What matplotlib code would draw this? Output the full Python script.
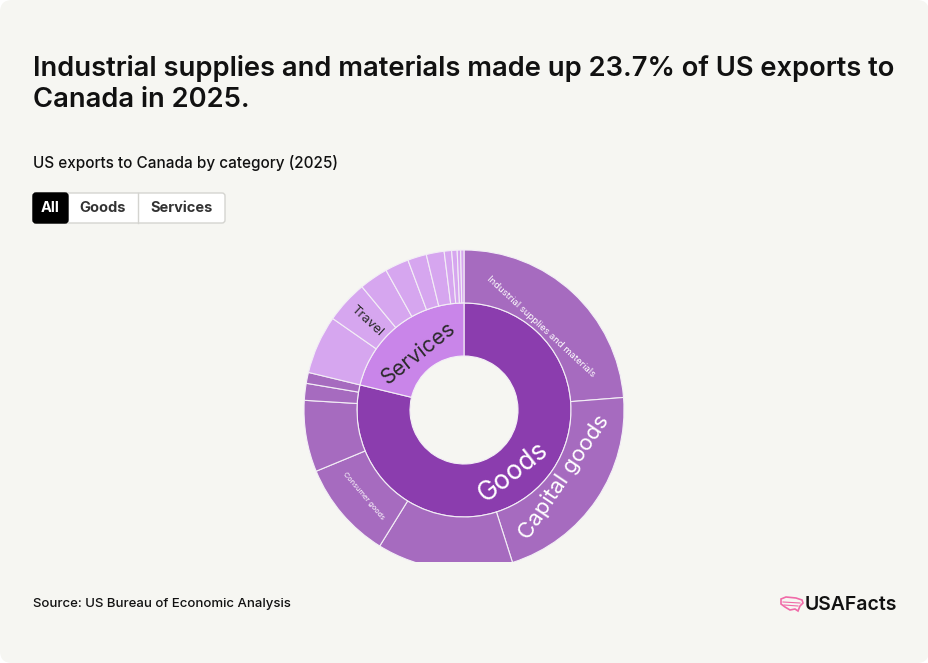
import numpy as np
import matplotlib
matplotlib.use("Agg")
import matplotlib.pyplot as plt
from matplotlib.patches import Wedge, FancyBboxPatch, Polygon

# share of US exports to Canada, percent of total (2025)
groups = ["Goods", "Services"]
goods_labels = ["Industrial supplies and materials", "Capital goods",
                "Automotive vehicles, parts, and engines", "Consumer goods",
                "Foods, feeds, and beverages", "Other goods", "Adjustments"]
goods_share = [23.7, 21.3, 13.7, 9.9, 7.2, 1.7, 1.1]
services_labels = ["Other business services", "Travel", "Transport",
                   "Charges for the use of intellectual property", "Financial services",
                   "Telecommunications, computer, and information services",
                   "Insurance services", "Maintenance and repair services",
                   "Personal, cultural, and recreational services",
                   "Government goods and services"]
services_share = [5.9, 4.3, 2.9, 2.4, 1.9, 1.8, 0.75, 0.55, 0.35, 0.33]

# which slices get a label: radius, font size, colour, orientation
label_style = {
    "Goods": (79, 19, "white", "tan"),
    "Services": (73, 15.5, "#2b2b2b", "tan"),
    "Industrial supplies and materials": (113, 6.8, "white", "tan"),
    "Capital goods": (121, 16, "white", "tan"),
    "Travel": (132, 9.5, "#2b2b2b", "rad"),
    "Consumer goods": (132, 5.3, "white", "tan"),
}

W, H = 929, 663
plt.rcParams['font.family'] = ['Inter', 'DejaVu Sans']

fig = plt.figure(figsize=(W / 100, H / 100), dpi=100, facecolor="white")
bg = fig.add_axes([0, 0, 1, 1])
bg.set_xlim(0, W)
bg.set_ylim(H, 0)
bg.axis("off")
bg.add_patch(FancyBboxPatch((0, 0), W, H, boxstyle="round,pad=0,rounding_size=12",
                            fc="#f6f6f2", ec="none"))

# titles
bg.text(33, 68, "Industrial supplies and materials made up 23.7% of US exports to",
        fontsize=19.7, fontweight=600, color="#111111", va="center")
bg.text(33, 100, "Canada in 2025.", fontsize=19.7, fontweight=600, color="#111111", va="center")
bg.text(33, 163, "US exports to Canada by category (2025)", fontsize=11,
        fontweight=500, color="#111111", va="center")

# toggle buttons
bg.add_patch(FancyBboxPatch((33, 193), 192, 30, boxstyle="round,pad=0,rounding_size=3",
                            fc="white", ec="#d4d4d0", lw=1))
bg.add_patch(FancyBboxPatch((33, 193), 35, 30, boxstyle="round,pad=0,rounding_size=3",
                            fc="black", ec="black", lw=1))
bg.plot([138, 138], [193, 223], color="#d4d4d0", lw=1)
bg.text(50.5, 208, "All", fontsize=10.5, fontweight="bold", color="white", ha="center", va="center")
bg.text(103, 208, "Goods", fontsize=10.5, fontweight="bold", color="#333333", ha="center", va="center")
bg.text(181.5, 208, "Services", fontsize=10.5, fontweight="bold", color="#333333", ha="center", va="center")

# footer
bg.text(33, 604, "Source: US Bureau of Economic Analysis", fontsize=9.5, fontweight=500,
        color="#111111", va="center")
bg.text(805, 605, "USAFacts", fontsize=14, fontweight=600, color="#111111", va="center")
us_shape = [(781, 599), (786, 597), (796, 598), (802, 600), (803, 603), (800, 606),
            (798, 611), (795, 609), (790, 610), (785, 607), (781, 604)]
bg.add_patch(Polygon(us_shape, closed=True, fc="none", ec="#f06aa8", lw=1.2))
bg.plot([783, 800], [602, 603], color="#f06aa8", lw=0.8)
bg.plot([784, 798], [605, 606], color="#f06aa8", lw=0.8)

# sunburst
cx, cy = 464, 410
r0, r1, r2 = 54, 107, 160
left, right, top, bottom = cx - 170, cx + 170, 240, 562
ax = fig.add_axes([left / W, (H - bottom) / H, (right - left) / W, (bottom - top) / H])
ax.set_xlim(-170, 170)
ax.set_ylim(-(bottom - cy), cy - top)
ax.set_aspect("equal")
ax.axis("off")

total = sum(goods_share) + sum(services_share)
inner_colors = {"Goods": "#8b3dae", "Services": "#c985e9"}
outer_colors = {"Goods": "#a66bbf", "Services": "#d6a6ef"}


def put_label(name, theta):
    r, size, color, mode = label_style[name]
    phi = np.radians(90 - theta)
    rot = -theta if mode == "tan" else 90 - theta
    rot = (rot + 180) % 360 - 180
    if rot > 90:
        rot -= 180
    elif rot < -90:
        rot += 180
    ax.text(r * np.cos(phi), r * np.sin(phi), name, fontsize=size, color=color,
            rotation=rot, rotation_mode="anchor", ha="center", va="center")


start = 0.0
for grp, labels, shares in [("Goods", goods_labels, goods_share),
                            ("Services", services_labels, services_share)]:
    span = sum(shares) / total * 360
    ax.add_patch(Wedge((0, 0), r1, 90 - start - span, 90 - start, width=r1 - r0,
                       fc=inner_colors[grp], ec="#f3eef6", lw=0.8))
    put_label(grp, start + span / 2)
    a = start
    for lab, v in zip(labels, shares):
        s = v / total * 360
        ax.add_patch(Wedge((0, 0), r2, 90 - a - s, 90 - a, width=r2 - r1,
                           fc=outer_colors[grp], ec="#f3eef6", lw=0.8))
        if lab in label_style:
            put_label(lab, a + s / 2)
        a += s
    start += span

fig.savefig("out.png", dpi=100, facecolor="white")
